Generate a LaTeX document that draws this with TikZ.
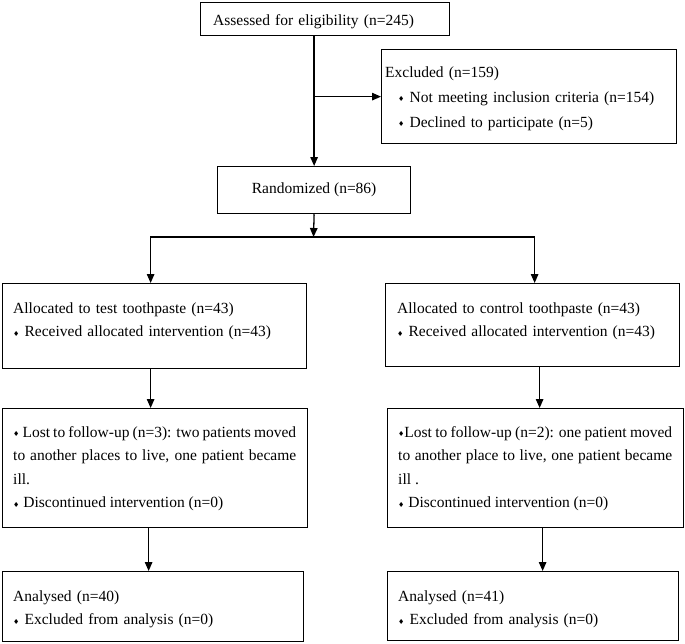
\documentclass[tikz,border=0pt]{standalone}
\usepackage{fontspec}
\setmainfont{Liberation Serif}
\newfontfamily\symbfont{DejaVu Sans}
\usetikzlibrary{arrows.meta}
\newcommand{\dm}{{\symbfont\fontsize{7}{7}\selectfont\raisebox{0.5pt}{♦}}}
\hbadness=10000

\begin{document}
\begin{tikzpicture}[x=1pt,y=-1pt,
box/.style={draw,line width=1.25pt,inner sep=0pt,anchor=north west},
txt/.style={anchor=base west,inner sep=0pt,text width=#1,align=left,
  font=\fontsize{15.5}{23.5}\selectfont},
txt/.default=285pt,
arr/.style={line width=1.3pt,-{Triangle[length=9pt,width=7.5pt]}}]

\useasboundingbox (0,0) rectangle (685,643);

% top part
\node[box,minimum width=249pt,minimum height=33pt] (assess) at (200,2) {};
\node[txt] (assess-t) at (213,25) {Assessed for eligibility (n=245)};

\node[box,minimum width=295pt,minimum height=94pt] (excl) at (381,49) {};
\node[txt,font=\fontsize{15.5}{25}\selectfont] (excl-t) at (385,77) {Excluded (n=159)\\
\hspace*{13pt}\dm\ Not meeting inclusion criteria (n=154)\\
\hspace*{13pt}\dm\ Declined to participate (n=5)};

\node[box,minimum width=193pt,minimum height=47pt] (rand) at (217,166) {};
\node[font=\fontsize{15.5}{23.5}\selectfont] (rand-t) at (rand.center) {Randomized (n=86)};

\coordinate (split) at (313.5,237);

% left arm
\node[box,minimum width=304pt,minimum height=85pt] (lalloc) at (2,283) {};
\node[txt] (lalloc-t) at (13,313) {Allocated to test toothpaste (n=43)\\
\dm\ Received allocated intervention (n=43)};

\node[box,minimum width=305pt,minimum height=119pt] (llost) at (2,408) {};
\node[txt=283pt,align=justify] (llost-t) at (13,437) {\dm\ Lost to follow-up (n=3): two patients moved\linebreak
to another places to live, one patient became\linebreak ill.\par
\dm\ Discontinued intervention (n=0)};

\node[box,minimum width=301pt,minimum height=70pt] (lanal) at (2,571) {};
\node[txt] (lanal-t) at (13,601) {Analysed (n=40)\\
\dm\ Excluded from analysis (n=0)};

% right arm
\node[box,minimum width=294pt,minimum height=83pt] (ralloc) at (385,283) {};
\node[txt] (ralloc-t) at (397,313) {Allocated to control toothpaste (n=43)\\
\dm\ Received allocated intervention (n=43)};

\node[box,minimum width=296pt,minimum height=119pt] (rlost) at (387,408) {};
\node[txt=274pt,align=justify] (rlost-t) at (398,437) {\dm Lost to follow-up (n=2): one patient moved\linebreak
to another place to live, one patient became\linebreak ill .\par
\dm\ Discontinued intervention (n=0)};

\node[box,minimum width=291pt,minimum height=69pt] (ranal) at (387,571) {};
\node[txt] (ranal-t) at (398,601) {Analysed (n=41)\\
\dm\ Excluded from analysis (n=0)};

% arrows
\draw[arr] (assess.south -| rand.north) -- (rand.north);
\draw[arr] (excl.west -| rand.north) -- (excl.west);
\draw[arr] (rand.south) -- (split);
\draw[arr] (split) -| ([xshift=-4pt]lalloc.north);
\draw[arr] (split) -| ([xshift=2pt]ralloc.north);
\draw[arr] ([xshift=-4pt]lalloc.south) -- ([xshift=-4.5pt]llost.north);
\draw[arr] ([xshift=-6.5pt]llost.south) -- ([xshift=-4.5pt]lanal.north);
\draw[arr] ([xshift=7pt]ralloc.south) -- ([xshift=4pt]rlost.north);
\draw[arr] ([xshift=7pt]rlost.south) -- ([xshift=9.5pt]ranal.north);

\end{tikzpicture}
\end{document}
